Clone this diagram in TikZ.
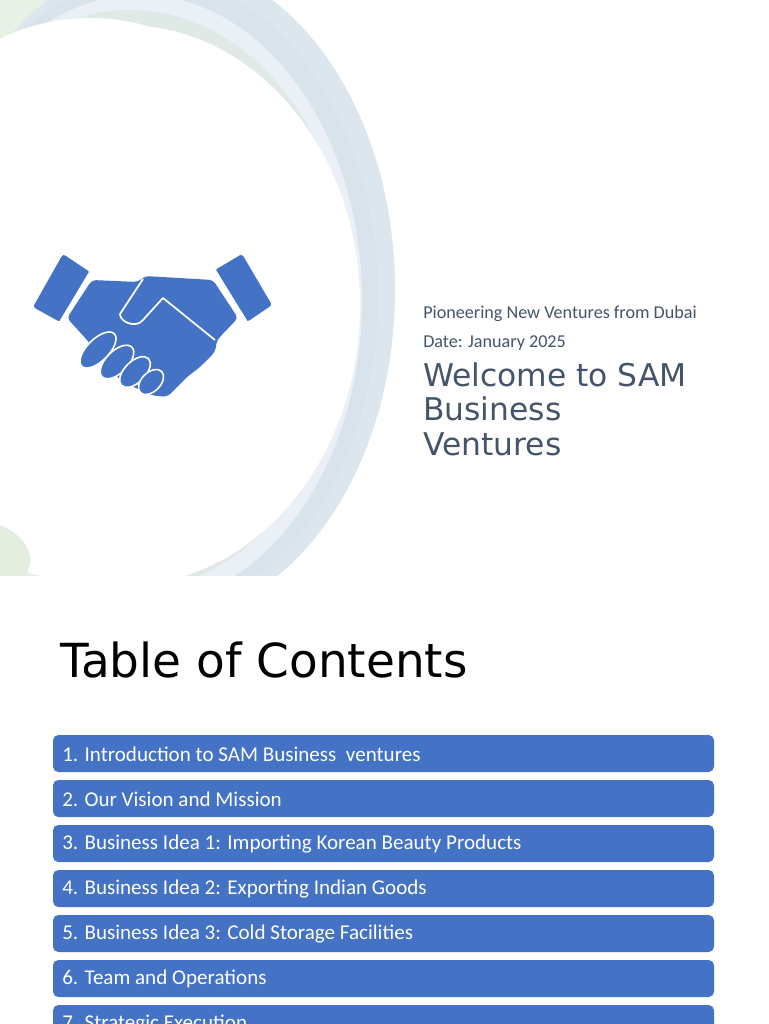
\documentclass[tikz,border=0pt]{standalone}
\usepackage{fontspec}
\setmainfont{Carlito}
\newfontfamily\dv{DejaVu Sans}
\definecolor{bar}{HTML}{4472C4}
\definecolor{slate}{HTML}{44546A}
\definecolor{bandA}{HTML}{DCE6EE}
\definecolor{bandB}{HTML}{C9D7E4}
\definecolor{bandG}{HTML}{E3EEDF}
\begin{document}
\begin{tikzpicture}[x=0.75pt,y=-0.75pt,
  tocbar/.style={fill=bar,rounded corners=4pt,draw=none},
  toctext/.style={anchor=west,text=white,font=\fontsize{15.8}{18}\selectfont,inner sep=0pt},
  finger/.style={fill=bar,draw=white,line width=1.2pt}]
\useasboundingbox (0,0) rectangle (768,1024);
\fill[white] (0,0) rectangle (768,1024);
% decorative bands
\begin{scope}
\clip (0,0) rectangle (768,575);
\fill[bandG,opacity=0.8] (-40,-30) rectangle (60,600);
\fill[bandA] (160,290) ellipse [x radius=235, y radius=330];
\fill[bandB!70!white] (150,295) ellipse [x radius=228, y radius=318];
\fill[bandA!60!white] (140,300) ellipse [x radius=222, y radius=305];
\fill[bandG!50!bandA] (130,300) ellipse [x radius=222, y radius=290];
\fill[white] (125,305) ellipse [x radius=235, y radius=280];
\fill[white] (90,300) ellipse [x radius=240, y radius=282];
\fill[bandG] (-30,560) ellipse [x radius=60, y radius=40];
\end{scope}
% handshake
\fill[bar,rounded corners=2pt] (33,307) -- (63,254) -- (90,272) -- (60,322) -- cycle;
\fill[bar,rounded corners=2pt] (215,270) -- (242,254) -- (272,305) -- (247,322) -- cycle;
\fill[bar,rounded corners=3pt] (67,318) -- (92,280) -- (138,282) -- (145,276) -- (213,280) -- (238,318) -- (217,340)
  -- (215,352) -- (200,367) -- (187,377) -- (177,387) -- (167,397) -- (150,395) -- (120,380) -- (87,340) -- cycle;
\draw[white,line width=1.3pt,line join=round] (215,340) -- (163,298) -- (142,321)
  .. controls (135,328) and (120,322) .. (120,314) -- (143,279);
\draw[white,line width=1.3pt] (60,322) -- (90,272);
\draw[white,line width=1.3pt] (215,270) -- (247,322);
\draw[finger,rotate around={45:(98,350)}] (98,350) ellipse [x radius=23, y radius=11];
\draw[finger,rotate around={45:(117,362)}] (117,362) ellipse [x radius=21, y radius=11];
\draw[finger,rotate around={45:(135,372)}] (135,372) ellipse [x radius=19, y radius=10.5];
\draw[finger,rotate around={45:(151,382)}] (151,382) ellipse [x radius=15, y radius=9.5];
% title texts
\node[anchor=west,text=slate,inner sep=0pt,font=\fontsize{13.6}{16}\selectfont] (sub) at (423,314) {Pioneering New Ventures from Dubai};
\node[anchor=west,text=slate,inner sep=0pt,font=\fontsize{13.6}{16}\selectfont] (date) at (423,343) {Date: January 2025};
\node[anchor=north west,text=slate,inner sep=0pt,align=left,font=\dv\fontsize{23.5}{26}\selectfont] (title) at (423,362) {Welcome to SAM\\Business\\Ventures};
\node[anchor=west,inner sep=0pt,font=\dv\fontsize{35.2}{40}\selectfont] (toc) at (60,660) {Table of Contents};
% bars
\foreach \i/\t in {1/{1. Introduction to SAM Business\ \ ventures},2/{2. Our Vision and Mission},3/{3. Business Idea 1: Importing Korean Beauty Products},4/{4. Business Idea 2: Exporting Indian Goods},5/{5. Business Idea 3: Cold Storage Facilities},6/{6. Team and Operations},7/{7. Strategic Execution}}{
  \pgfmathsetmacro\yy{735+45*(\i-1)}
  \fill[tocbar] (53,\yy) rectangle (714,\yy+37);
  \node[toctext] (item\i) at (62,\yy+19) {\t};
}
\end{tikzpicture}
\end{document}
